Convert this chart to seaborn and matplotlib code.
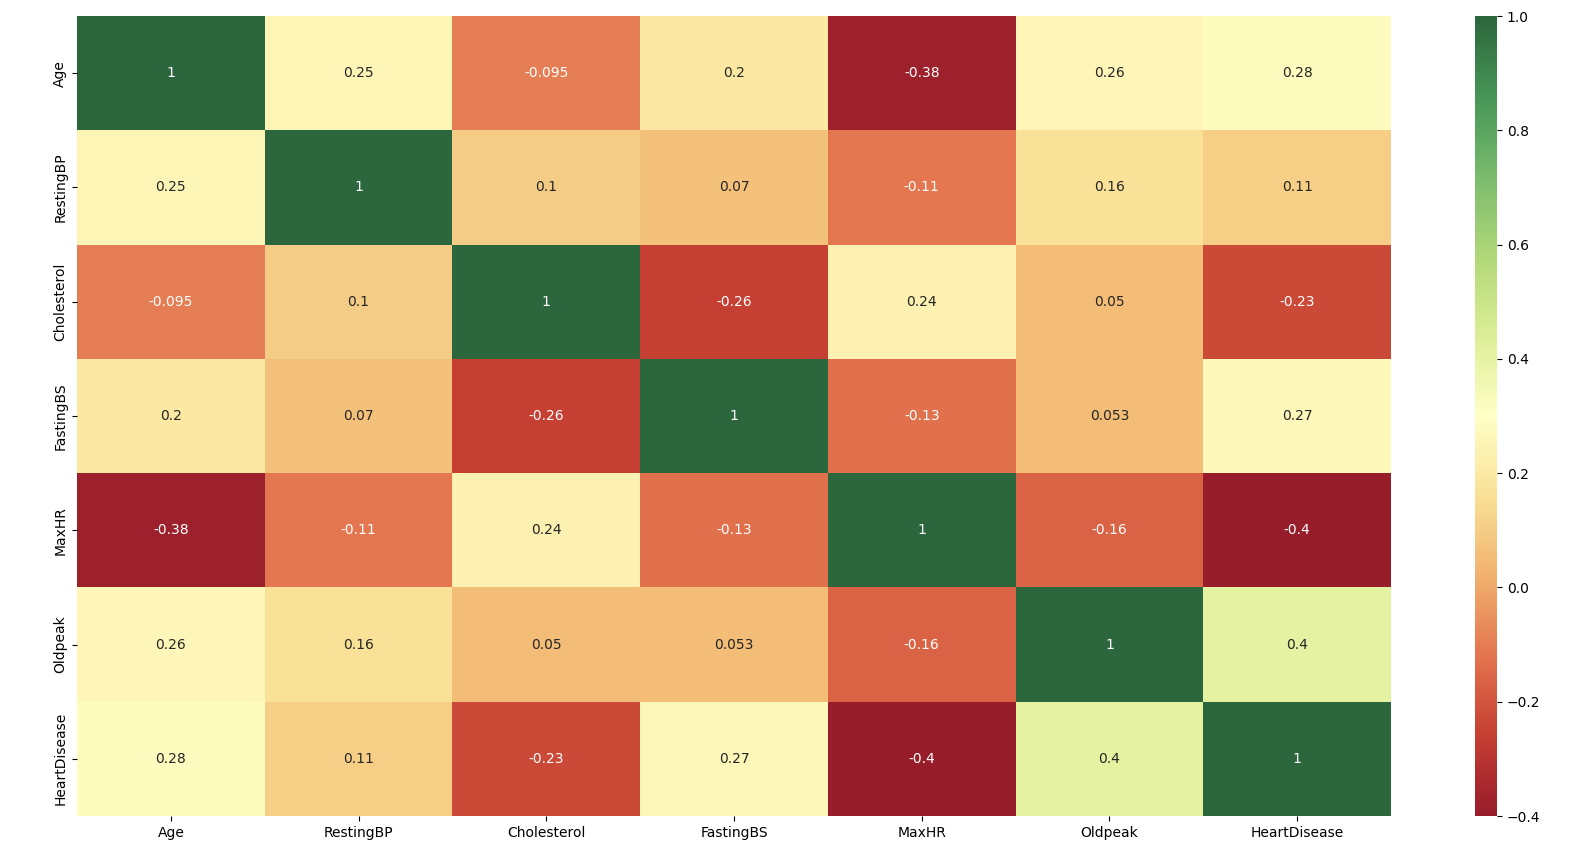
import numpy as np
import pandas as pd
import matplotlib
matplotlib.use("Agg")
import matplotlib.pyplot as plt
from matplotlib.colors import ListedColormap
import seaborn as sns

cols = ["Age", "RestingBP", "Cholesterol", "FastingBS", "MaxHR", "Oldpeak", "HeartDisease"]

age = [1.0, 0.254, -0.095, 0.198, -0.382, 0.259, 0.282]
resting_bp = [0.254, 1.0, 0.101, 0.070, -0.112, 0.164, 0.108]
cholesterol = [-0.095, 0.101, 1.0, -0.261, 0.236, 0.050, -0.233]
fasting_bs = [0.198, 0.070, -0.261, 1.0, -0.131, 0.053, 0.267]
max_hr = [-0.382, -0.112, 0.236, -0.131, 1.0, -0.161, -0.400]
oldpeak = [0.259, 0.164, 0.050, 0.053, -0.161, 1.0, 0.404]
heart_disease = [0.282, 0.108, -0.233, 0.267, -0.400, 0.404, 1.0]

corr = pd.DataFrame(
    [age, resting_bp, cholesterol, fasting_bs, max_hr, oldpeak, heart_disease],
    index=cols,
    columns=cols,
)


def srgb_as_p3(rgba):
    # the screenshot's colours look like sRGB values re-encoded for a P3 display
    rgb = rgba[:, :3]
    lin = np.where(rgb <= 0.04045, rgb / 12.92, ((rgb + 0.055) / 1.055) ** 2.4)
    m = np.array([[0.8225, 0.1774, 0.0000],
                  [0.0332, 0.9669, 0.0000],
                  [0.0171, 0.0724, 0.9108]])
    p3 = np.clip(lin @ m.T, 0, 1)
    enc = np.where(p3 <= 0.0031308, p3 * 12.92, 1.055 * p3 ** (1 / 2.4) - 0.055)
    out = rgba.copy()
    out[:, :3] = enc
    return out


base = plt.get_cmap("RdYlGn")(np.linspace(0, 1, 256))
cmap = ListedColormap(srgb_as_p3(base))

fig = plt.figure(figsize=(15.84, 8.56), dpi=100)
W, H = 1584, 856
ax = fig.add_axes([77 / W, (H - 816) / H, (1391 - 77) / W, 800 / H])
cax = fig.add_axes([1475 / W, (H - 816) / H, 22 / W, 800 / H])

sns.heatmap(corr, annot=True, cmap=cmap, ax=ax, cbar_ax=cax)
ax.tick_params(labelsize=10)
cax.tick_params(labelsize=10)

fig.savefig("out.png", dpi=100)
